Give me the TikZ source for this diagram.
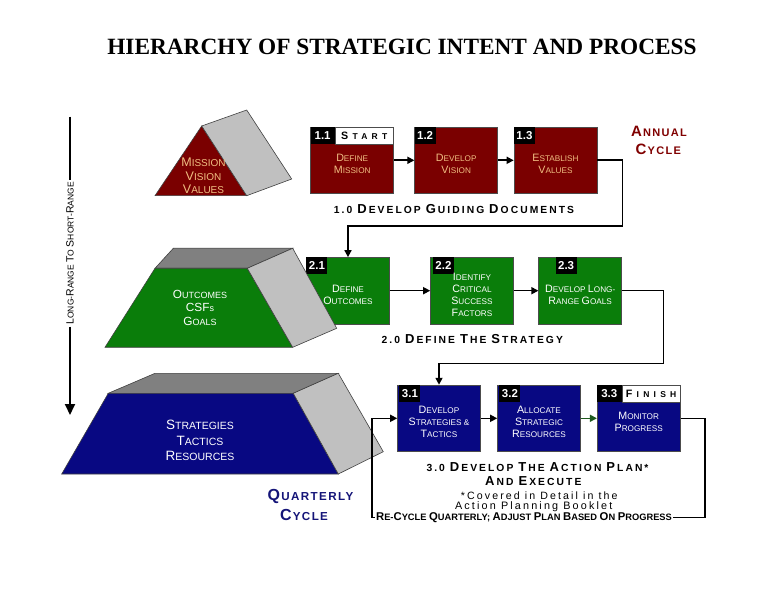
\documentclass[tikz,border=0pt]{standalone}
\usepackage{fontspec}
\setmainfont{Liberation Sans}
\newfontfamily\titlefont{Liberation Serif}
\newfontfamily\sA[LetterSpace=12]{Liberation Sans}
\newfontfamily\sB[LetterSpace=20]{Liberation Sans}
\newfontfamily\sC[LetterSpace=50]{Liberation Sans}
\usetikzlibrary{arrows.meta,calc}
\def\ukern{0pt}
\newcommand\U[1]{{\upsize #1}\kern\ukern}
\newcommand\fs[2]{\fontsize{#1}{#2}\selectfont}
\definecolor{myred}{RGB}{122,0,0}
\definecolor{gold}{RGB}{240,190,130}
\definecolor{mygreen}{RGB}{10,125,10}
\definecolor{mynavy}{RGB}{8,8,130}
\definecolor{lgray}{RGB}{192,192,192}
\definecolor{dgray}{RGB}{128,128,128}
\definecolor{darrow}{RGB}{30,90,30}
\definecolor{cyclered}{RGB}{128,0,0}
\definecolor{cyclenavy}{RGB}{20,20,120}
\begin{document}
\begin{tikzpicture}[x=1pt,y=-1pt,
  box/.style={draw=black!70, line width=0.6pt, minimum width=83pt, minimum height=66.5pt, inner sep=0pt},
  redbox/.style={box, fill=myred},
  greenbox/.style={box, fill=mygreen},
  bluebox/.style={box, fill=mynavy},
  tab/.style={fill=black, text=white, font=\bfseries\fs{11.5}{12}, minimum width=21pt, minimum height=17pt, inner sep=0pt, anchor=north west},
  wtab/.style={draw=black!70, line width=0.6pt, fill=white, font={\def\ukern{4.2pt}\def\upsize{\fs{10.7}{10}}\sC\bfseries\fs{8.5}{10}}, minimum width=58.3pt, minimum height=17pt, inner sep=0pt, anchor=north west},
  bxt/.style={align=center, text=white, inner sep=0pt, font={\def\upsize{\fs{10.7}{12}}\fs{8.2}{12}}},
  rbxt/.style={bxt, text=gold},
  heading/.style={anchor=base, inner sep=0pt, font={\def\ukern{2.1pt}\def\upsize{\fs{13}{14}}\sB\bfseries\fs{10.3}{14}}},
  cyc/.style={anchor=base, inner sep=0pt, font={\def\ukern{1.3pt}\def\upsize{\fs{15}{18}}\sA\bfseries\fs{11}{18}}},
  arr/.style={line width=1.6pt, -{Triangle[length=7pt,width=7pt]}},
  face/.style={draw=black!75, line width=0.6pt}
]
\useasboundingbox (0,0) rectangle (768,593);

% title
\node[anchor=base, inner sep=0pt, font=\titlefont\bfseries\fs{23.3}{28}] (title) at (402,54.3) {HIERARCHY OF STRATEGIC INTENT AND PROCESS};

% ---------- level 1 boxes
\node[redbox] (b11) at (352.2,160.3) {};
\node[redbox] (b12) at (456.2,160.3) {};
\node[redbox] (b13) at (555.5,160.3) {};
\node[tab, minimum width=24pt] (t11) at (b11.north west) {1.1};
\node[wtab] (s11) at (t11.north east) {\U{S}TART};
\node[tab] (t12) at (b12.north west) {1.2};
\node[tab] (t13) at (b13.north west) {1.3};
\node[rbxt, yshift=-4pt] (x11) at (b11.center) {\U{D}EFINE\\\U{M}ISSION};
\node[rbxt, yshift=-4pt] (x12) at (b12.center) {\U{D}EVELOP\\\U{V}ISION};
\node[rbxt, yshift=-4pt] (x13) at (b13.center) {\U{E}STABLISH\\\U{V}ALUES};

% ---------- level 2 boxes
\node[greenbox] (b21) at (348,290.7) {};
\node[greenbox] (b22) at (472,290.7) {};
\node[greenbox] (b23) at (580.2,290.7) {};
\node[tab] (t21) at (b21.north west) {2.1};
\node[tab] (t22) at ([xshift=2.5pt]b22.north west) {2.2};
\node[tab] (t23) at ([xshift=17pt]b23.north west) {2.3};
\node[bxt, yshift=-4pt] (x21) at (b21.center) {\U{D}EFINE\\\U{O}UTCOMES};
\node[bxt, yshift=-4pt] (x22) at (b22.center) {\U{I}DENTIFY\\\U{C}RITICAL\\\U{S}UCCESS\\\U{F}ACTORS};
\node[bxt, yshift=-4pt] (x23) at (b23.center) {\U{D}EVELOP \U{L}ONG-\\\U{R}ANGE \U{G}OALS};

% ---------- level 3 boxes
\node[bluebox] (b31) at (439,418.3) {};
\node[bluebox] (b32) at (539,418.3) {};
\node[bluebox] (b33) at (638.7,418.3) {};
\node[tab] (t31) at ([xshift=2pt]b31.north west) {3.1};
\node[tab] (t32) at ([xshift=2pt]b32.north west) {3.2};
\node[tab, minimum width=24.4pt] (t33) at (b33.north west) {3.3};
\node[wtab, minimum width=58.3pt] (s33) at (t33.north east) {\U{F}INISH};
\node[bxt, yshift=-4pt] (x31) at (b31.center) {\U{D}EVELOP\\\U{S}TRATEGIES \&\\\U{T}ACTICS};
\node[bxt, yshift=-4pt] (x32) at (b32.center) {\U{A}LLOCATE\\\U{S}TRATEGIC\\\U{R}ESOURCES};
\node[bxt, yshift=-4pt] (x33) at (b33.center) {\U{M}ONITOR\\\U{P}ROGRESS};

% ---------- prisms
% level 1 triangle prism
\fill[myred, face] (201.7,126) -- (246.7,195.7) -- (155,195.7) -- cycle;
\filldraw[fill=lgray, face] (201.7,126) -- (246.7,110) -- (291.7,179) -- (246.7,195.7) -- cycle;
\node[align=center, text=gold, inner sep=0pt, font={\def\upsize{\fs{12.5}{13.3}}\fs{10}{13.3}}] (p1) at (203.5,176) {\U{M}ISSION\\\U{V}ISION\\\U{V}ALUES};

% level 2 trapezoid prism
\filldraw[fill=dgray, face] (155,268.3) -- (173.3,248.3) -- (292.7,248.3) -- (247.3,268.3) -- cycle;
\filldraw[fill=mygreen, face] (155,268.3) -- (247.3,268.3) -- (292.7,347.3) -- (105,347.3) -- cycle;
\filldraw[fill=lgray, face] (247.3,268.3) -- (292.7,248.3) -- (336.7,328.3) -- (292.7,347.3) -- cycle;
\node[align=center, text=white, inner sep=0pt, font={\def\upsize{\fs{11.8}{13.5}}\fs{9}{13.5}}] (p2) at (200,307.7) {\U{O}UTCOMES\\\U{CSF}s\\\U{G}OALS};

% level 3 trapezoid prism
\filldraw[fill=dgray, face] (108.3,393.3) -- (155,373.3) -- (338.3,373.3) -- (293.3,393.3) -- cycle;
\filldraw[fill=mynavy, face] (108.3,393.3) -- (293.3,393.3) -- (338.3,474) -- (61.7,474) -- cycle;
\filldraw[fill=lgray, face] (293.3,393.3) -- (338.3,373.3) -- (383.3,451.7) -- (338.3,474) -- cycle;
\node[align=center, text=white, inner sep=0pt, font={\def\upsize{\fs{13.5}{15.5}}\fs{10.5}{15.5}}] (p3) at (200,440.5) {\U{S}TRATEGIES\\\U{T}ACTICS\\\U{R}ESOURCES};

% ---------- connectors
\draw[arr] (b11) -- (b12);
\draw[arr] (b12) -- (b13);
\draw[arr] (b21) -- (b22);
\draw[arr] (b22) -- (b23);
\draw[arr] (b31) -- (b32);
\draw[arr, darrow] (b32) -- (b33);

\coordinate (k1) at (622.3,226);
\draw[arr] (b13.east) -| (k1) -| (b21.north);
\coordinate (k2) at (663.3,363.3);
\draw[arr] (b23.east) -| (k2) -| (b31.north);
\coordinate (k3) at (705,517.3);
\coordinate (k4) at (371.7,517.3);
\draw[arr] (b33.east) -| (k3) -- (k4) |- (b31.west);
\node[fill=white, inner xsep=1pt, inner ysep=1pt, font={\def\upsize{\fs{11.3}{11}}\bfseries\fs{9.3}{11}}] (rc) at (524,517.3) {\U{R}E-\U{C}YCLE \U{Q}UARTERLY; \U{A}DJUST \U{P}LAN \U{B}ASED \U{O}N \U{P}ROGRESS};

% ---------- headings
\node[heading] (h1) at (454,213.3) {1.0 \U{D}EVELOP \U{G}UIDING \U{D}OCUMENTS};
\node[heading] (h2) at (472.3,344) {2.0 \U{D}EFINE \U{T}HE \U{S}TRATEGY};
\node[heading] (h3) at (537.5,471.7) {3.0 \U{D}EVELOP \U{T}HE \U{A}CTION \U{P}LAN*};
\node[heading] (h3b) at (533.3,485) {\U{A}ND \U{E}XECUTE};
\node[anchor=base, inner sep=0pt, font=\sB\fs{10.6}{11}] (n1) at (539.2,499) {*Covered in Detail in the};
\node[anchor=base, inner sep=0pt, font=\sB\fs{10.8}{11}] (n2) at (533.7,509.5) {Action Planning Booklet};

% ---------- cycle labels
\node[cyc, text=cyclered] (an1) at (659,136.7) {\U{A}NNUAL};
\node[cyc, text=cyclered] (an2) at (658.3,155) {\U{C}YCLE};
\node[cyc, text=cyclenavy, font={\def\ukern{1.3pt}\def\upsize{\fs{16}{18}}\sA\bfseries\fs{11.6}{18}}] (q1) at (310.5,500.7) {\U{Q}UARTERLY};
\node[cyc, text=cyclenavy, font={\def\ukern{1.3pt}\def\upsize{\fs{16}{18}}\sA\bfseries\fs{11.6}{18}}] (q2) at (304,520) {\U{C}YCLE};

% ---------- long-range arrow
\coordinate (la) at (70,116.7);
\coordinate (lb) at (70,415);
\node[rotate=90, inner sep=2pt, font={\def\upsize{\fs{10.5}{12}}\fs{8.5}{12}}] (lr) at (70,253.3) {\U{L}ONG-\U{R}ANGE \U{T}O \U{S}HORT-\U{R}ANGE};
\draw[line width=1.8pt] (la) -- (lr.east);
\draw[line width=1.8pt, -{Triangle[length=11pt,width=10pt]}] (lr.west) -- (lb);
\end{tikzpicture}
\end{document}
